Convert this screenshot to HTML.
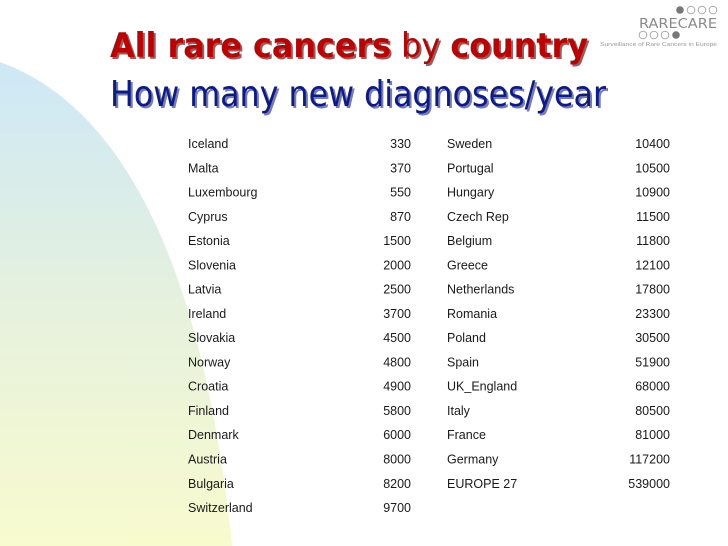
<!DOCTYPE html>
<html><head><meta charset="utf-8"><style>
html,body{margin:0;padding:0;background:#fff;}
body{width:728px;height:546px;position:relative;overflow:hidden;font-family:"Liberation Sans",sans-serif;}
</style></head><body>
<svg width="728" height="546" viewBox="0 0 728 546" style="position:absolute;left:0;top:0">
<defs>
<linearGradient id="bg" x1="0" y1="0" x2="0" y2="1">
<stop offset="0" stop-color="#cde8f6"/><stop offset="0.5" stop-color="#e6f1de"/><stop offset="1" stop-color="#f8fbce"/>
</linearGradient>
</defs>
<path d="M0,62 C105,100 200,230 232,546 L0,546 Z" fill="url(#bg)"/>
<g>
<circle cx="680" cy="10" r="3.8" fill="#777"/><circle cx="691" cy="10" r="3.8" fill="none" stroke="#aaa"/><circle cx="702" cy="10" r="3.8" fill="none" stroke="#aaa"/><circle cx="713" cy="10" r="3.8" fill="none" stroke="#aaa"/>
<text x="639" y="28" font-family="DejaVu Sans,sans-serif" font-size="13" fill="#8a8a8a" textLength="78" lengthAdjust="spacingAndGlyphs">RARECARE</text>
<circle cx="643" cy="35" r="3.8" fill="none" stroke="#aaa"/><circle cx="654" cy="35" r="3.8" fill="none" stroke="#aaa"/><circle cx="665" cy="35" r="3.8" fill="none" stroke="#aaa"/><circle cx="676" cy="35" r="3.8" fill="#777"/>
<text x="600" y="46" font-size="5.5" fill="#999" textLength="117" lengthAdjust="spacingAndGlyphs">Surveillance of Rare Cancers in Europe</text>
</g>
<g font-family="DejaVu Sans,sans-serif">
<text x="112" y="59" font-size="34" fill="#300000" opacity="0.6" textLength="478" lengthAdjust="spacingAndGlyphs"><tspan font-weight="bold">All rare cancers</tspan> by <tspan font-weight="bold">country</tspan></text>
<text x="110" y="57" font-size="34" fill="#c00000" textLength="478" lengthAdjust="spacingAndGlyphs"><tspan font-weight="bold">All rare cancers</tspan> by <tspan font-weight="bold">country</tspan></text>
<text x="112" y="108" font-size="36" fill="#000030" opacity="0.5" textLength="496" lengthAdjust="spacingAndGlyphs">How many new diagnoses/year</text>
<text x="110" y="106" font-size="36" fill="#0a1a90" textLength="496" lengthAdjust="spacingAndGlyphs">How many new diagnoses/year</text>
</g>
<g id="tbl" font-size="12.5" fill="#1a1a1a"></g>
</svg>
<script>
const leftNames=["Iceland","Malta","Luxembourg","Cyprus","Estonia","Slovenia","Latvia","Ireland","Slovakia","Norway","Croatia","Finland","Denmark","Austria","Bulgaria","Switzerland"];
const leftValues=[330,370,550,870,1500,2000,2500,3700,4500,4800,4900,5800,6000,8000,8200,9700];
const rightNames=["Sweden","Portugal","Hungary","Czech Rep","Belgium","Greece","Netherlands","Romania","Poland","Spain","UK_England","Italy","France","Germany","EUROPE 27"];
const rightValues=[10400,10500,10900,11500,11800,12100,17800,23300,30500,51900,68000,80500,81000,117200,539000];
const g=document.getElementById('tbl');
const NS='http://www.w3.org/2000/svg';
const rowY=i=>148+i*24.27;
function txt(x,y,s,anchor,name){
  const t=document.createElementNS(NS,'text');
  t.setAttribute('x',x);t.setAttribute('y',y);
  if(anchor)t.setAttribute('text-anchor',anchor);
  t.textContent=s;
  
  
  g.appendChild(t);
}
leftNames.forEach((n,i)=>{txt(188,rowY(i),n,null,'country-name');txt(411,rowY(i),String(leftValues[i]),'end','country-value');});
rightNames.forEach((n,i)=>{txt(447,rowY(i),n,null,'country-name');txt(670,rowY(i),String(rightValues[i]),'end','country-value');});
</script>
</body></html>
